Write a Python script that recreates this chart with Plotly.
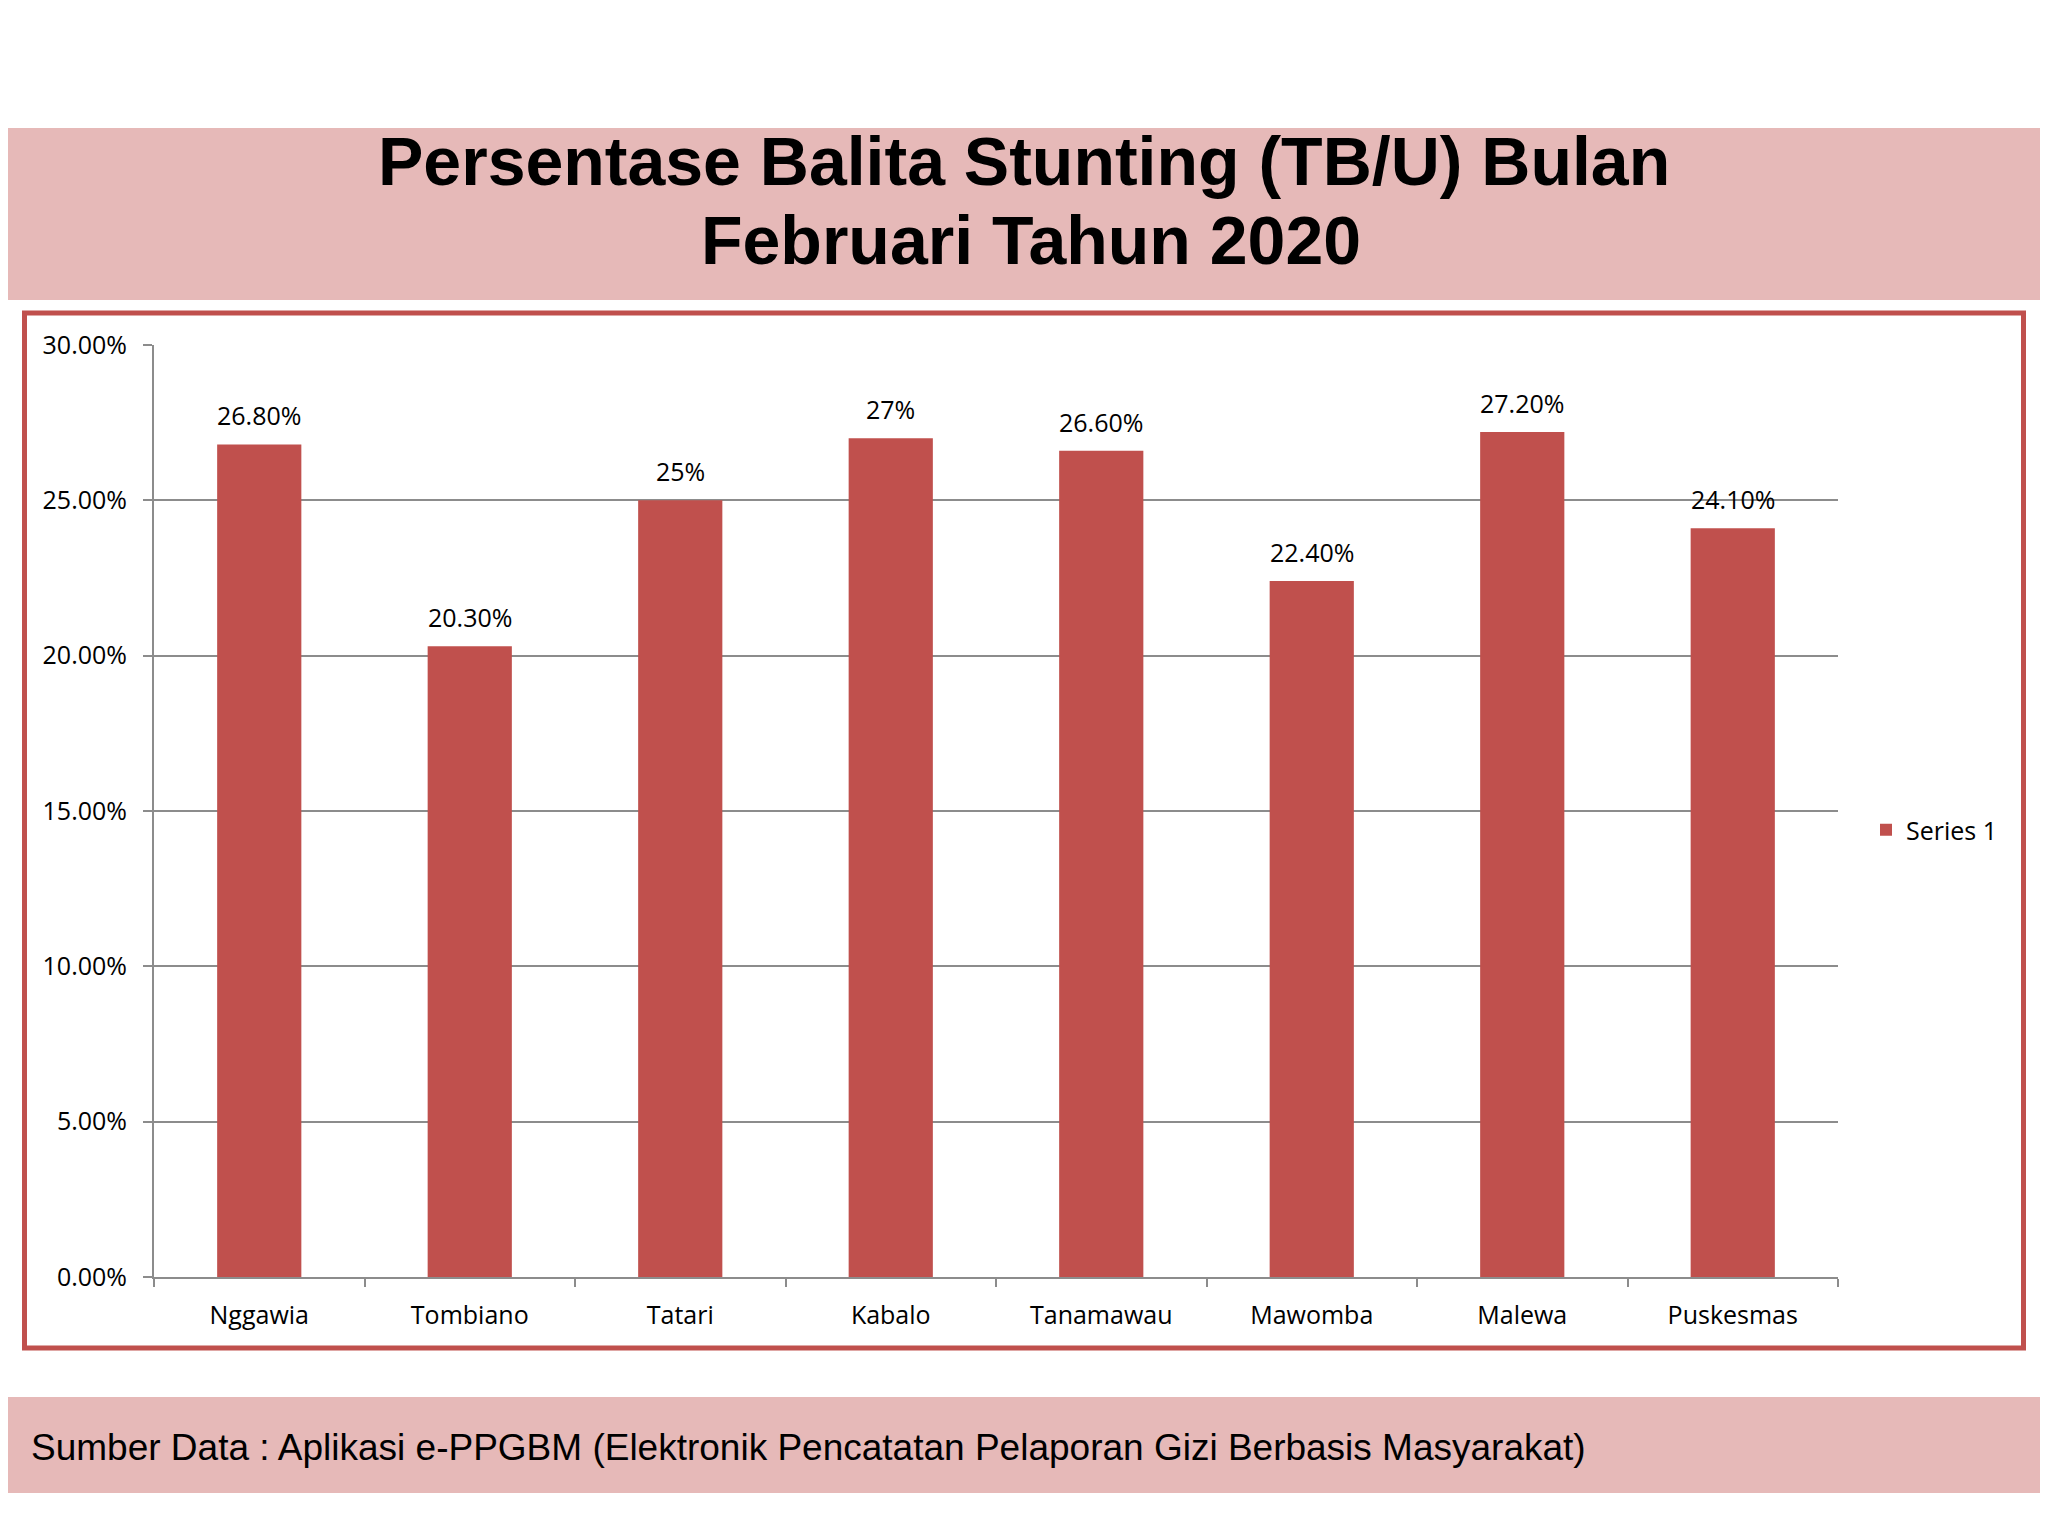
import plotly.graph_objects as go

categories = ["Nggawia", "Tombiano", "Tatari", "Kabalo", "Tanamawau", "Mawomba", "Malewa", "Puskesmas"]
values = [0.268, 0.203, 0.25, 0.27, 0.266, 0.224, 0.272, 0.241]
value_labels = ["26.80%", "20.30%", "25%", "27%", "26.60%", "22.40%", "27.20%", "24.10%"]
series_name = "Series 1"
title_line1 = "Persentase Balita Stunting (TB/U) Bulan"
title_line2 = "Februari Tahun 2020"
footer_text = "Sumber Data : Aplikasi e-PPGBM (Elektronik Pencatatan Pelaporan Gizi Berbasis Masyarakat)"

W, H = 2048, 1536
OFF = 8  # page body margin compensation
PW, PH = 1838 - 154, 1277 - 345
L, T = 154 - OFF, 345 - OFF
R, B = W - L - PW, H - T - PH

def px(x):
    return (x - OFF - L) / PW

def py(y):
    return (T + PH - (y - OFF)) / PH

BAR = "#C0504D"
PINK = "#E6B9B8"
GRID = "#8C8C8C"
FONT = "Open Sans"
SANS = "Liberation Sans, Arial"

fig = go.Figure()
fig.add_trace(go.Bar(
    x=categories, y=values, name=series_name,
    marker=dict(color=BAR, line=dict(width=0)),
    width=0.4, showlegend=True,
))

shapes = [
    dict(type="rect", xref="paper", yref="paper", x0=px(0), x1=px(2060), y0=py(300), y1=py(128),
         fillcolor=PINK, line=dict(width=0), layer="below"),
    dict(type="rect", xref="paper", yref="paper", x0=px(7), x1=px(2060), y0=py(1493), y1=py(1397),
         fillcolor=PINK, line=dict(width=0), layer="below"),
    dict(type="rect", xref="paper", yref="paper", x0=px(24.5), x1=px(2023.5), y0=py(1348), y1=py(313),
         fillcolor="rgba(0,0,0,0)", line=dict(color=BAR, width=5), layer="below"),
]

annotations = []
for c, v, t in zip(categories, values, value_labels):
    annotations.append(dict(x=c, y=v, xref="x", yref="y", text=t, showarrow=False,
                            yanchor="middle", yshift=29, font=dict(family=FONT, size=25, color="#000")))

annotations.append(dict(x=px(1024), y=py(161), xref="paper", yref="paper", text="<b>" + title_line1 + "</b>",
                        showarrow=False, xanchor="center", yanchor="middle",
                        font=dict(family=SANS, size=68, color="#000")))
annotations.append(dict(x=px(1031), y=py(240), xref="paper", yref="paper", text="<b>" + title_line2 + "</b>",
                        showarrow=False, xanchor="center", yanchor="middle",
                        font=dict(family=SANS, size=68, color="#000")))
annotations.append(dict(x=px(29), y=py(1447), xref="paper", yref="paper", text=footer_text,
                        showarrow=False, xanchor="left", yanchor="middle",
                        font=dict(family=SANS, size=37, color="#000")))

fig.update_layout(
    width=W, height=H,
    margin=dict(l=L, r=R, t=T, b=B, autoexpand=False),
    paper_bgcolor="white", plot_bgcolor="white",
    bargap=0.6,
    font=dict(family=FONT, size=25, color="#000"),
    shapes=shapes, annotations=annotations,
    legend=dict(x=px(1866), y=py(830), xanchor="left", yanchor="middle",
                font=dict(family=FONT, size=25, color="#000"), bgcolor="rgba(0,0,0,0)"),
    xaxis=dict(
        type="category", showgrid=False, showline=True, linecolor=GRID, linewidth=2,
        ticks="outside", tickson="boundaries", ticklen=8, tickcolor=GRID, tickwidth=2,
        tickfont=dict(family=FONT, size=25, color="#000"), ticklabelstandoff=15,
    ),
    yaxis=dict(
        range=[0, 0.30], dtick=0.05, tickformat=".2%", showgrid=True, gridcolor=GRID, gridwidth=2,
        showline=True, linecolor=GRID, linewidth=2, zeroline=False,
        ticks="outside", ticklen=9, tickcolor=GRID, tickwidth=2,
        tickfont=dict(family=FONT, size=25, color="#000"), ticklabelstandoff=11,
    ),
)

fig.write_html("out.html")
